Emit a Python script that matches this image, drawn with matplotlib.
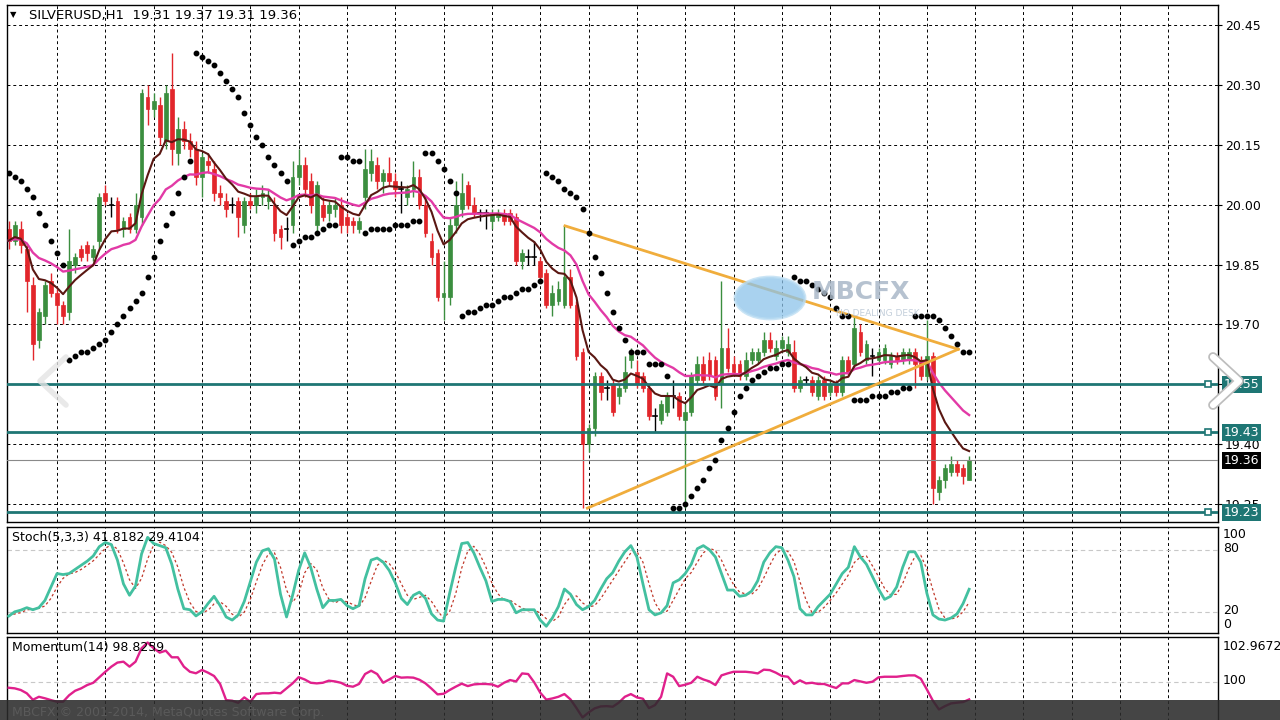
import numpy as np
import pandas as pd
import matplotlib
matplotlib.use("Agg")
import matplotlib.pyplot as plt
from matplotlib.patches import Rectangle, Ellipse
from matplotlib.lines import Line2D
import matplotlib.transforms as mtransforms

plt.rcParams['font.family'] = ['DejaVu Sans']

# ---------------- data ----------------
opens = [19.94,19.91,19.94,19.89,19.80,19.66,19.72,19.81,19.78,19.75,
         19.73,19.85,19.89,19.90,19.87,19.91,20.03,20.00,20.01,19.94,
         19.97,19.94,19.97,20.27,20.24,20.25,20.16,20.29,20.13,20.19,
         20.16,20.14,20.07,20.11,20.09,20.03,20.01,20.00,20.01,19.95,
         20.01,20.00,20.02,20.01,20.00,19.94,19.94,19.95,20.07,20.10,
         20.06,19.95,20.00,19.98,19.99,20.00,19.97,19.96,19.94,20.02,
         20.08,20.10,20.06,20.08,20.06,20.04,20.02,20.04,20.07,20.00,
         19.91,19.88,19.77,19.77,19.95,19.99,20.05,20.00,19.98,19.98,
         19.96,19.97,19.98,19.98,19.97,19.86,19.87,19.87,19.86,19.83,
         19.75,19.76,19.75,19.82,19.75,19.63,19.40,19.44,19.57,19.54,
         19.55,19.52,19.54,19.61,19.58,19.57,19.54,19.47,19.46,19.48,
         19.52,19.52,19.46,19.48,19.56,19.60,19.61,19.61,19.55,19.64,
         19.60,19.60,19.57,19.61,19.61,19.63,19.66,19.62,19.64,19.63,
         19.63,19.54,19.56,19.56,19.52,19.56,19.53,19.55,19.53,19.61,
         19.60,19.68,19.61,19.62,19.61,19.61,19.60,19.62,19.61,19.61,
         19.63,19.61,19.57,19.62,19.28,19.31,19.33,19.35,19.34,19.31]
highs = [19.96,19.96,19.96,19.90,19.82,19.74,19.81,19.83,19.79,19.76,
         19.94,19.88,19.90,19.91,19.90,20.03,20.05,20.02,20.02,19.97,
         19.98,20.03,20.29,20.30,20.28,20.27,20.30,20.38,20.22,20.21,
         20.18,20.16,20.13,20.13,20.11,20.05,20.03,20.02,20.02,20.02,
         20.03,20.04,20.05,20.04,20.02,19.95,19.97,20.11,20.14,20.12,
         20.08,20.06,20.02,20.01,20.02,20.02,19.98,19.97,19.97,20.14,
         20.14,20.12,20.09,20.12,20.08,20.06,20.05,20.11,20.09,20.02,
         19.93,19.89,19.86,19.97,20.06,20.08,20.06,20.02,19.99,19.99,
         19.99,19.99,19.99,19.99,19.98,19.89,19.89,19.91,19.87,19.84,
         19.80,19.81,19.95,19.84,19.76,19.64,19.45,19.58,19.58,19.56,
         19.56,19.55,19.62,19.64,19.61,19.58,19.55,19.49,19.51,19.53,
         19.56,19.53,19.50,19.58,19.62,19.62,19.63,19.62,19.81,19.69,
         19.62,19.61,19.63,19.64,19.64,19.68,19.68,19.66,19.67,19.67,
         19.66,19.57,19.57,19.57,19.57,19.57,19.56,19.56,19.62,19.62,
         19.72,19.70,19.66,19.64,19.64,19.65,19.63,19.63,19.64,19.64,
         19.64,19.62,19.71,19.63,19.32,19.35,19.37,19.36,19.35,19.37]
lows = [19.89,19.90,19.88,19.73,19.61,19.64,19.70,19.77,19.70,19.70,
        19.71,19.83,19.86,19.86,19.86,19.89,20.00,19.97,19.93,19.92,
        19.93,19.93,19.95,20.20,20.22,20.15,20.14,20.10,20.10,20.14,
        20.12,20.05,20.02,20.08,20.01,20.00,19.97,19.98,19.92,19.93,
        19.99,19.98,20.00,19.99,19.91,19.89,19.91,19.93,20.05,20.02,
        19.98,19.93,19.96,19.96,19.97,19.93,19.93,19.93,19.93,19.99,
        20.06,20.04,20.03,20.05,20.02,19.98,20.00,20.02,19.99,19.92,
        19.85,19.76,19.71,19.75,19.93,19.97,19.99,19.97,19.96,19.94,
        19.94,19.96,19.95,19.95,19.85,19.84,19.85,19.85,19.81,19.74,
        19.72,19.75,19.74,19.74,19.61,19.24,19.38,19.42,19.51,19.51,
        19.47,19.50,19.53,19.59,19.54,19.53,19.46,19.43,19.45,19.47,
        19.49,19.46,19.24,19.47,19.55,19.55,19.56,19.51,19.49,19.58,
        19.57,19.56,19.56,19.60,19.60,19.62,19.63,19.61,19.63,19.62,
        19.53,19.53,19.55,19.52,19.51,19.51,19.52,19.52,19.52,19.57,
        19.59,19.62,19.60,19.57,19.60,19.60,19.59,19.60,19.60,19.60,
        19.54,19.56,19.56,19.25,19.26,19.29,19.32,19.32,19.30,19.31]
closes = [19.91,19.95,19.90,19.81,19.65,19.73,19.80,19.78,19.75,19.72,
          19.86,19.87,19.87,19.88,19.89,20.02,20.01,20.00,19.94,19.96,
          19.94,20.00,20.28,20.24,20.26,20.17,20.28,20.14,20.19,20.16,
          20.14,20.07,20.12,20.10,20.03,20.02,19.99,20.00,19.97,20.01,
          20.00,20.02,20.03,20.02,19.93,19.92,19.94,20.07,20.10,20.04,
          20.00,20.05,19.97,20.00,20.00,19.95,19.95,19.95,19.96,20.09,
          20.11,20.06,20.08,20.06,20.04,20.04,20.04,20.07,20.00,19.93,
          19.87,19.77,19.78,19.95,20.00,20.03,20.00,19.98,19.98,19.98,
          19.98,19.98,19.96,19.96,19.86,19.88,19.87,19.87,19.82,19.75,
          19.78,19.79,19.82,19.75,19.62,19.40,19.44,19.57,19.53,19.54,
          19.48,19.54,19.58,19.63,19.55,19.54,19.47,19.47,19.50,19.52,
          19.52,19.47,19.48,19.57,19.60,19.56,19.57,19.52,19.64,19.59,
          19.58,19.57,19.61,19.63,19.63,19.66,19.64,19.64,19.66,19.65,
          19.54,19.56,19.56,19.53,19.56,19.52,19.55,19.53,19.61,19.58,
          19.69,19.63,19.65,19.62,19.63,19.64,19.62,19.61,19.63,19.63,
          19.60,19.57,19.62,19.29,19.31,19.34,19.35,19.33,19.32,19.36]
sar = [20.08,20.07,20.06,20.04,20.02,19.98,19.95,19.91,19.88,19.85,
       19.61,19.62,19.63,19.63,19.64,19.65,19.66,19.68,19.70,19.72,
       19.74,19.76,19.78,19.82,19.87,19.91,19.95,19.98,20.03,20.07,
       20.11,20.38,20.37,20.36,20.35,20.33,20.31,20.29,20.27,20.23,
       20.20,20.17,20.15,20.12,20.10,20.08,20.06,19.90,19.91,19.92,
       19.92,19.93,19.94,19.95,19.95,20.12,20.12,20.11,20.11,19.93,
       19.94,19.94,19.94,19.94,19.95,19.95,19.95,19.96,19.96,20.13,
       20.13,20.11,20.09,20.06,20.03,19.72,19.73,19.73,19.74,19.75,
       19.75,19.76,19.77,19.77,19.78,19.79,19.79,19.80,19.81,20.08,
       20.07,20.06,20.04,20.03,20.02,19.99,19.93,19.87,19.83,19.78,
       19.73,19.69,19.66,19.63,19.63,19.63,19.60,19.60,19.60,19.57,
       19.24,19.24,19.25,19.27,19.29,19.31,19.34,19.36,19.41,19.44,
       19.48,19.52,19.54,19.56,19.57,19.58,19.59,19.59,19.60,19.60,
       19.82,19.81,19.81,19.80,19.79,19.78,19.77,19.74,19.72,19.72,
       19.51,19.51,19.51,19.52,19.52,19.52,19.53,19.53,19.54,19.54,
       19.72,19.72,19.72,19.72,19.71,19.69,19.67,19.65,19.63,19.63]
stoch_k = [15.8,20,21.6,24,22,24,31,44,57,56,
           57,61,65,69,74,83,87,85,70,47,
           36,45,76,92,86,84,82,66,42,23,
           22,16,20,28,35,26,15,12,17,30,
           49,68,79,81,71,37,15,36,60,77,
           63,42,24,31,31,32,26,23,26,52,
           70,72,68,60,48,33,27,36,39,33,
           18,12,11,38,63,86,87,77,63,50,
           30,32,32,30,19,22,22,22,12,6,
           14,25,42,37,27,22,25,31,42,52,
           58,69,78,84,73,47,22,17,19,26,
           48,51,57,66,81,84,80,73,57,41,
           41,35,36,40,50,68,77,83,82,70,
           54,23,17,17,25,31,37,47,57,63,
           83,73,66,54,42,32,35,44,63,78,
           78,68,38,17,13,12,14,18,28,41.82]
momentum = [99.6,99.56,99.45,99.23,98.8,99.0,98.9,98.78,98.67,98.67,
            99.1,99.4,99.56,99.78,99.93,100.3,100.66,101.0,101.27,101.33,
            101.0,101.33,102.22,102.6,102.22,101.93,102.06,101.62,101.62,101.0,
            100.66,100.56,100.78,100.6,100.38,99.85,98.78,98.74,98.6,98.96,
            98.67,99.18,99.23,99.23,99.27,99.23,99.56,99.89,100.3,100.15,
            99.93,99.89,99.93,100.07,100.02,99.93,99.73,99.67,99.85,100.51,
            100.73,100.51,99.93,100.15,100.38,100.27,100.29,100.27,100.13,99.89,
            99.54,99.16,99.2,99.45,99.67,99.87,99.71,99.82,99.85,99.85,
            99.82,99.67,99.93,100.11,100.02,100.55,100.51,99.96,99.27,98.81,
            98.89,99.0,99.18,98.83,98.25,97.63,97.96,98.23,98.36,98.38,
            98.34,98.61,99.0,99.18,98.96,98.87,98.25,98.45,99.0,100.55,
            100.33,99.71,99.8,99.93,100.33,100.15,100.02,99.78,100.42,100.55,
            100.66,100.66,100.66,100.62,100.55,100.8,100.77,100.6,100.38,100.33,
            99.85,100.09,99.89,99.93,99.85,99.85,99.71,99.58,99.89,99.89,
            100.11,100.02,99.93,100.0,100.29,100.33,100.33,100.33,100.38,100.42,
            100.42,100.2,99.49,98.74,98.16,98.38,98.56,98.61,98.65,98.8259]

price_ticks = [20.45, 20.30, 20.15, 20.00, 19.85, 19.70, 19.55, 19.40, 19.25]
level_lines = [19.55, 19.43, 19.23]
bid_price = 19.36
tri_upper = [(92.1, 19.947), (157.2, 19.638)]
tri_lower = [(95.8, 19.240), (157.2, 19.638)]
title = "SILVERUSD,H1  19.31 19.37 19.31 19.36"

# ---------------- layout helpers ----------------
W, H = 1280, 720
def rect(l, t, r, b):
    return [l / W, 1 - b / H, (r - l) / W, (b - t) / H]
def fx(px): return px / W
def fy(py): return 1 - py / H

fig = plt.figure(figsize=(12.8, 7.2), dpi=100)
fig.patch.set_facecolor('white')

ax = fig.add_axes(rect(7, 5, 1218, 522))
axs = fig.add_axes(rect(7, 527, 1218, 633), sharex=ax)
axm = fig.add_axes(rect(7, 637, 1218, 722), sharex=ax)

n = len(closes)
idx = np.arange(n)
UP = '#3b8e3f'
DN = '#e2262b'
TEAL = '#1e7674'

for a in (ax, axs, axm):
    a.set_xlim(-0.28, 200.2)
    a.set_xticks(np.arange(8, 200, 8))
    a.tick_params(axis='x', length=0, labelbottom=False)
    a.grid(True, axis='x', color='black', linestyle=(0, (3, 3)), linewidth=0.7)
    a.set_axisbelow(True)
    for s in a.spines.values():
        s.set_color('black')
        s.set_linewidth(1.0)

# ---------------- main panel ----------------
ax.set_ylim(19.2053, 20.5001)
ax.set_yticks(price_ticks)
ax.set_yticklabels([f"{v:.2f}" for v in price_ticks])
ax.yaxis.tick_right()
ax.tick_params(axis='y', length=3, labelsize=9, pad=2)
ax.grid(True, axis='y', color='black', linestyle=(0, (3, 3)), linewidth=0.7)

bw = 0.62
for i in idx:
    o, h, l, c = opens[i], highs[i], lows[i], closes[i]
    if abs(c - o) < 1e-9:
        col = 'black'
    else:
        col = UP if c > o else DN
    ax.plot([i, i], [l, h], color=col, lw=1.0, zorder=2, solid_capstyle='butt')
    if col == 'black':
        ax.plot([i - bw / 2, i + bw / 2], [o, o], color='black', lw=1.2, zorder=2)
    else:
        ax.add_patch(Rectangle((i - bw / 2, min(o, c)), bw, abs(c - o),
                               facecolor=col, edgecolor=col, lw=0.5, zorder=2))

cs = pd.Series(closes)
ma_fast = cs.ewm(span=8, adjust=False).mean()
ma_slow = cs.ewm(span=21, adjust=False).mean()
ax.plot(idx, ma_slow, color='#e23aa6', lw=1.7, zorder=3)
ax.plot(idx, ma_fast, color='#5a1712', lw=1.5, zorder=3)

ax.plot(idx, sar, 'o', color='black', markersize=3.2, zorder=4)

for lv in level_lines:
    ax.axhline(lv, color=TEAL, lw=2.0, zorder=3)
    ax.plot([198.6], [lv], 's', mfc='white', mec=TEAL, ms=4, mew=1.2, zorder=5)
ax.axhline(bid_price, color='#8a8a8a', lw=0.8, zorder=3)

for seg in (tri_upper, tri_lower):
    ax.plot([seg[0][0], seg[1][0]], [seg[0][1], seg[1][1]], color='#f0ad3c', lw=2.0, zorder=3)

# watermark logo
fig.add_artist(Ellipse((fx(770), fy(298)), 70 / W, 42 / H, transform=fig.transFigure,
                       facecolor='#8cc3ea', edgecolor='#b9dcf2', alpha=0.75, lw=2, zorder=6))
fig.text(fx(812), fy(292), "MBCFX", fontsize=18, color='#a9b8c8', alpha=0.85,
         fontweight='bold', va='center', ha='left', zorder=6)
fig.text(fx(836), fy(313), "NO DEALING DESK", fontsize=6.5, color='#b8c6d4', alpha=0.85,
         va='center', ha='left', zorder=6)

# title
fig.text(fx(10), fy(15), "\u25BC", fontsize=6, va='center', ha='left', color='black')
fig.text(fx(29), fy(15), title, fontsize=9.5, va='center', ha='left', color='black')

# price label boxes on the right axis
trans_lbl = mtransforms.blended_transform_factory(fig.transFigure, ax.transData)
for lv in level_lines:
    ax.text(fx(1224), lv, f"{lv:.2f}", transform=trans_lbl, fontsize=9, color='white',
            va='center', ha='left', clip_on=False, zorder=10,
            bbox=dict(boxstyle='square,pad=0.15', facecolor=TEAL, edgecolor='none'))
ax.text(fx(1224), bid_price, f"{bid_price:.2f}", transform=trans_lbl, fontsize=9, color='white',
        va='center', ha='left', clip_on=False, zorder=10,
        bbox=dict(boxstyle='square,pad=0.15', facecolor='black', edgecolor='none'))

# ---------------- stochastic panel ----------------
axs.set_ylim(-0.5, 102)
axs.set_yticks([])
k = pd.Series(stoch_k)
d = k.rolling(3, min_periods=1).mean()
for lv in (80, 20):
    axs.axhline(lv, color='#c8c8c8', lw=0.8, linestyle=(0, (4, 3)))
axs.plot(idx, d, color='#c0392b', lw=0.9, linestyle=(0, (2, 2)), zorder=3)
axs.plot(idx, k, color='#43c0a0', lw=2.0, zorder=4)
fig.text(fx(12), fy(538), "Stoch(5,3,3) 41.8182 29.4104", fontsize=9, va='center', ha='left')
for lab, py in (("100", 535), ("80", 549), ("20", 611), ("0", 625)):
    fig.text(fx(1223), fy(py), lab, fontsize=9, va='center', ha='left')

# ---------------- momentum panel ----------------
axm.set_ylim(97.457 - 0.13, 102.9672)
axm.set_yticks([])
axm.axhline(100, color='#c8c8c8', lw=0.8, linestyle=(0, (4, 3)))
axm.plot(idx, momentum, color='#e0208c', lw=1.7, zorder=3)
fig.text(fx(12), fy(648), "Momentum(14) 98.8259", fontsize=9, va='center', ha='left')
fig.text(fx(1223), fy(647), "102.9672", fontsize=9, va='center', ha='left')
fig.text(fx(1223), fy(681), "100", fontsize=9, va='center', ha='left')

# ---------------- overlays ----------------
fig.add_artist(Rectangle((0, 0), 1, 20 / H, transform=fig.transFigure,
                         facecolor='#2b2b2b', edgecolor='none', alpha=0.88, zorder=20))
fig.text(fx(12), fy(706), "MBCFX \u00A9 2001-2014, MetaQuotes Software Corp.", fontsize=9,
         color='#5a5a5a', va='top', ha='left', zorder=21)

# navigation chevrons (video overlay)
fig.add_artist(Line2D([fx(1213), fx(1239), fx(1213)], [fy(357), fy(381), fy(405)],
                      transform=fig.transFigure, color='#bdbdbd', lw=7, zorder=15,
                      solid_capstyle='round', solid_joinstyle='round'))
fig.add_artist(Line2D([fx(1213), fx(1239), fx(1213)], [fy(357), fy(381), fy(405)],
                      transform=fig.transFigure, color='white', lw=4.5, zorder=16,
                      solid_capstyle='round', solid_joinstyle='round'))
fig.add_artist(Line2D([fx(66), fx(40), fx(66)], [fy(357), fy(381), fy(405)],
                      transform=fig.transFigure, color='#e4e4e4', lw=4, zorder=15, alpha=0.8,
                      solid_capstyle='round', solid_joinstyle='round'))

fig.savefig("out.png", dpi=100, facecolor='white')
